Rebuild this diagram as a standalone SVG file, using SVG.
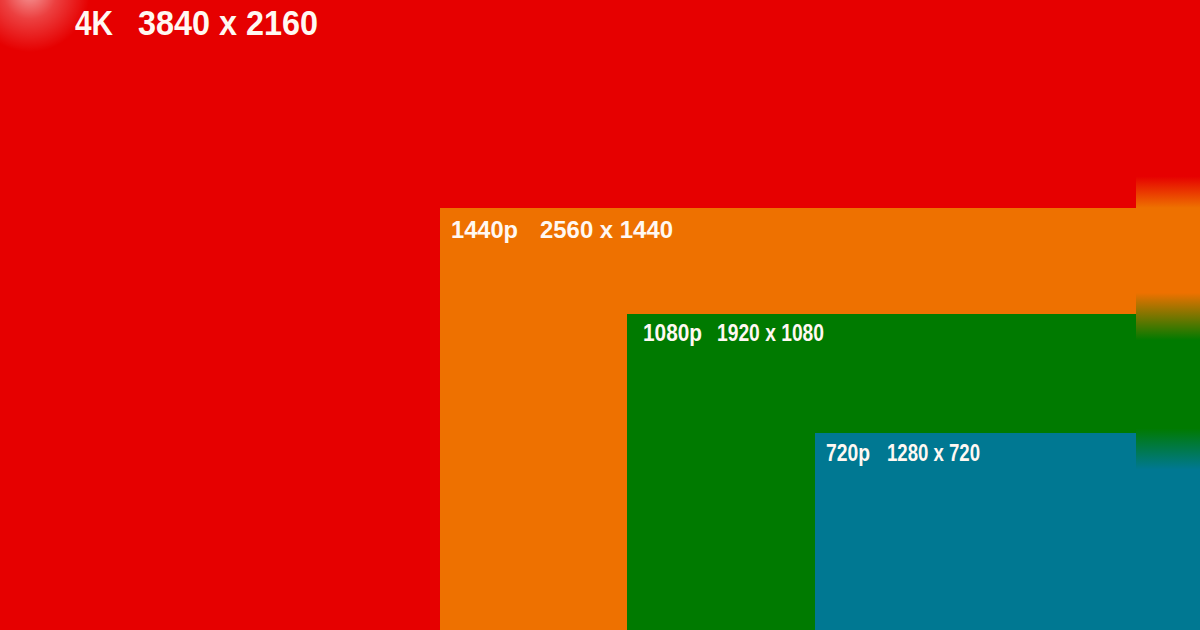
<svg xmlns="http://www.w3.org/2000/svg" width="1200" height="630" viewBox="0 0 1200 630">
<style>
.lbl{font-family:"Liberation Sans Narrow","Liberation Sans",Arial,sans-serif;font-weight:bold;fill:#fff8f2}
</style>
<defs>
<linearGradient id="strip" gradientUnits="userSpaceOnUse" x1="0" y1="0" x2="0" y2="630">
<stop offset="0" stop-color="#e60000"/>
<stop offset="0.28" stop-color="#e60000"/>
<stop offset="0.33" stop-color="#ee7100"/>
<stop offset="0.465" stop-color="#ee7100"/>
<stop offset="0.54" stop-color="#007a00"/>
<stop offset="0.68" stop-color="#007a00"/>
<stop offset="0.745" stop-color="#007892"/>
<stop offset="1" stop-color="#007892"/>
</linearGradient>
<radialGradient id="glow" gradientUnits="userSpaceOnUse" cx="30" cy="-8" r="60">
<stop offset="0" stop-color="#ffffff" stop-opacity="0.6"/>
<stop offset="0.45" stop-color="#ffffff" stop-opacity="0.25"/>
<stop offset="1" stop-color="#ffffff" stop-opacity="0"/>
</radialGradient>
</defs>
<g id="r4k">
<rect x="0" y="0" width="1200" height="630" fill="#e60000"/>
<rect x="0" y="0" width="100" height="60" fill="url(#glow)"/>
<text class="lbl" x="75" y="35" font-size="35" textLength="38" lengthAdjust="spacingAndGlyphs">4K</text>
<text class="lbl" x="138" y="35" font-size="35" textLength="180" lengthAdjust="spacingAndGlyphs">3840 x 2160</text>
</g>
<g id="r1440">
<rect x="440" y="208" width="696" height="422" fill="#ee7100"/>
<text class="lbl" x="451" y="238" font-size="23.5" textLength="67" lengthAdjust="spacingAndGlyphs">1440p</text>
<text class="lbl" x="540" y="238" font-size="23.5" textLength="133" lengthAdjust="spacingAndGlyphs">2560 x 1440</text>
</g>
<g id="r1080">
<rect x="627" y="314" width="509" height="316" fill="#007a00"/>
<text class="lbl" x="643" y="341" font-size="23.5" textLength="59" lengthAdjust="spacingAndGlyphs">1080p</text>
<text class="lbl" x="717" y="341" font-size="23.5" textLength="107" lengthAdjust="spacingAndGlyphs">1920 x 1080</text>
</g>
<g id="r720">
<rect x="815" y="433" width="321" height="197" fill="#007892"/>
<text class="lbl" x="826" y="461" font-size="23.5" textLength="44" lengthAdjust="spacingAndGlyphs">720p</text>
<text class="lbl" x="887" y="461" font-size="23.5" textLength="93" lengthAdjust="spacingAndGlyphs">1280 x 720</text>
</g>
<g id="edge">
<rect x="1136" y="0" width="64" height="630" fill="url(#strip)"/>
</g>
</svg>
